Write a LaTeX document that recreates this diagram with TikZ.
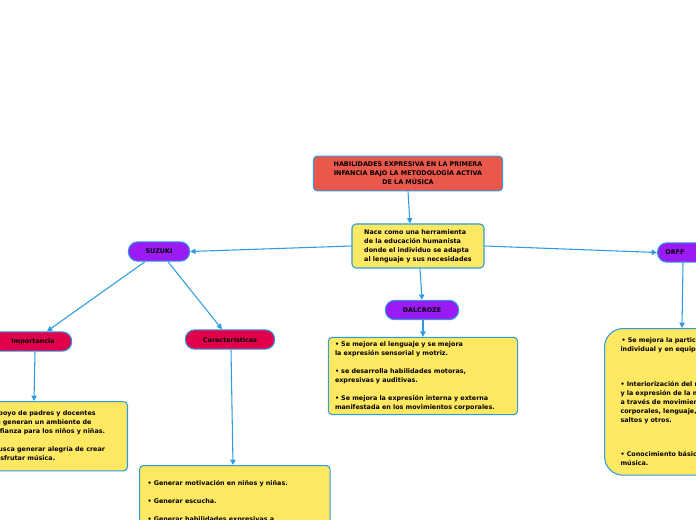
\documentclass[tikz,border=0pt]{standalone}
\usepackage{fontspec}
\setmainfont{DejaVu Sans}
\usetikzlibrary{arrows.meta}
\definecolor{redbox}{HTML}{EA574B}
\definecolor{yel}{HTML}{FFE963}
\definecolor{purp}{HTML}{9B1BF5}
\definecolor{crim}{HTML}{E1004C}
\definecolor{edge}{HTML}{2E9BE0}
\begin{document}
\begin{tikzpicture}[x=0.75pt,y=-0.75pt,
  base/.style={draw=edge,line width=0.8pt,font=\fontsize{4.8}{6.8}\selectfont\bfseries,inner sep=0pt},
  yelbox/.style={base,fill=yel,rounded corners=3pt,align=left},
  pill/.style={base,fill=#1,rounded corners=7pt,minimum height=14.5pt,align=center},
  conn/.style={draw=edge,line width=0.8pt,-{Triangle[length=4pt,width=4pt]}}]
\useasboundingbox (0,0) rectangle (696,520);
\clip (0,0) rectangle (696,520);
\node[base,fill=redbox,rounded corners=3pt,minimum width=142pt,minimum height=26pt,align=center] (t) at (408,173.5)
 {HABILIDADES EXPRESIVA EN LA PRIMERA\\INFANCIA BAJO LA METODOLOGÍA ACTIVA\\DE LA MÚSICA};
\node[yelbox,minimum width=99pt,minimum height=33pt] (n) at (418,246)
 {Nace como una herramienta\\de la educación humanista\\donde el individuo se adapta\\al lenguaje y sus necesidades};
\node[pill=purp,minimum width=46pt] (s) at (159,251.5) {SUZUKI};
\node[pill=purp,minimum width=48pt,anchor=west] (o) at (657,252.5) {\hspace*{-22pt}ORFF};
\node[pill=purp,minimum width=55pt] (d) at (422,310) {DALCROZE};
\node[pill=crim,minimum width=61pt] (i) at (31,341.5) {\hspace*{3pt}Importancia};
\node[pill=crim,minimum width=67pt] (c) at (230,339.5) {Características};
\node[yelbox,inner xsep=5pt,text width=132pt,minimum height=58pt] (db) at (423,376)
 {• Se mejora el lenguaje y se mejora\\la expresión sensorial y motriz.\\[6.8pt]• se desarrolla habilidades motoras,\\expresivas y auditivas.\\[6.8pt]• Se mejora la expresión interna y externa\\manifestada en los movimientos corporales.};
\node[yelbox,minimum width=111pt,minimum height=52pt,anchor=north east] (ib) at (128,401)
 {\begin{tabular}{@{}l@{}}• Apoyo de padres y docentes\\que generan un ambiente de\\confianza para los niños y niñas.\\[6.8pt]• Busca generar alegría de crear\\y disfrutar música.\end{tabular}\hspace*{11pt}};
\node[yelbox,inner xsep=6pt,inner ysep=1pt,text width=131pt,minimum height=62pt,anchor=north west] (cb) at (139,465)
 {\\[-4pt]• Generar motivación en niños y niñas.\\[6.8pt]• Generar escucha.\\[6.8pt]• Generar habilidades expresivas a\\temprana edad.};
\node[yelbox,rounded corners=14pt,minimum width=100pt,minimum height=110pt,anchor=north west,text width=86pt,inner xsep=12pt] (ob) at (604,328)
 {\,• Se mejora la participación\\individual y en equipo.\\[19pt]• Interiorización del ritmo\\y la expresión de la música\\a través de movimientos\\corporales, lenguaje,\\saltos y otros.\\[19pt]• Conocimiento básico de la\\música.};
\draw[conn] (t.south -| 408,0) -- (n.north -| 410,0);
\draw[conn] (n.west) -- (s.east);
\draw[conn] (n.east) -- (o.west);
\draw[conn] (n.south -| 420,0) -- (d.north -| 422,0);
\draw[conn] (s.south -| 145,0) -- (i.north -| 47,0);
\draw[conn] (s.south -| 168,0) -- (c.north -| 222,0);
\draw[conn] (d.south -| 423,0) -- (db.north -| 423,0);
\draw[conn] (i.south -| 35,0) -- (ib.north -| 34,0);
\draw[conn] (c.south -| 231,0) -- (cb.north -| 233,0);
\draw[conn] (o.south -| 683,0) -- (ob.north -| 682,0);
\end{tikzpicture}
\end{document}
